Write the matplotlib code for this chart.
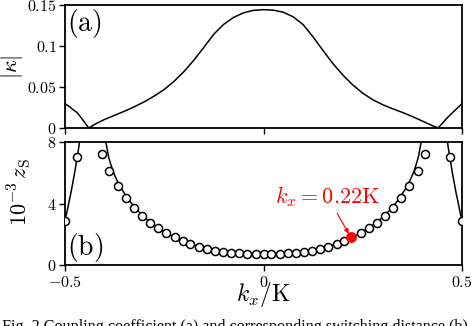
import numpy as np
import matplotlib

matplotlib.use("Agg")
import matplotlib.pyplot as plt

plt.rcParams["mathtext.fontset"] = "cm"
plt.rcParams["font.family"] = "serif"
plt.rcParams["font.serif"] = ["Liberation Serif", "DejaVu Serif"]

# coupling coefficient |kappa| versus k_x / K
kappa_k = [-0.50, -0.49, -0.48, -0.47, -0.46, -0.45, -0.44, -0.425, -0.40, -0.375,
           -0.35, -0.325, -0.30, -0.275, -0.25, -0.225, -0.20, -0.175, -0.15, -0.125,
           -0.10, -0.075, -0.05, -0.025, 0.0, 0.025, 0.05, 0.075, 0.10, 0.125,
           0.15, 0.175, 0.20, 0.225, 0.25, 0.275, 0.30, 0.325, 0.35, 0.375,
           0.40, 0.42, 0.44, 0.46, 0.48, 0.50]
kappa_val = [0.0297, 0.0265, 0.0225, 0.0190, 0.0130, 0.0065, 0.0, 0.0045, 0.0105, 0.0155,
             0.0205, 0.0260, 0.0320, 0.0390, 0.0470, 0.0570, 0.0690, 0.0830, 0.0985, 0.1145,
             0.1265, 0.1350, 0.1405, 0.1435, 0.1443, 0.1437, 0.1412, 0.1355, 0.1260, 0.1110,
             0.0945, 0.0785, 0.0645, 0.0525, 0.0425, 0.0345, 0.0285, 0.0235, 0.0190, 0.0140,
             0.0085, 0.0040, 0.0, 0.0110, 0.0205, 0.0297]

# switching distance: analytic curve (NaN separates the branches)
zs_line_k = [-0.50, -0.495, -0.49, -0.485, -0.48, -0.475, -0.47, -0.465, -0.46, -0.455, -0.45,
             np.nan,
             -0.42, -0.41, -0.40, -0.39, -0.38, -0.37, -0.36, -0.34, -0.32, -0.30, -0.28,
             -0.24, -0.20, -0.16, -0.12, -0.08, -0.04, 0.0, 0.04, 0.08, 0.12, 0.16, 0.20,
             0.24, 0.28, 0.30, 0.32, 0.34, 0.36, 0.37, 0.38, 0.39, 0.40, 0.41, 0.42,
             np.nan,
             0.45, 0.455, 0.46, 0.465, 0.47, 0.475, 0.48, 0.485, 0.49, 0.495, 0.50]
zs_line_val = [2.88, 3.45, 4.10, 4.70, 5.40, 6.10, 6.90, 7.70, 8.70, 10.5, 13.0,
               np.nan,
               14.0, 10.5, 8.40, 7.00, 6.15, 5.55, 5.05, 4.25, 3.62, 3.10, 2.68,
               2.00, 1.53, 1.15, 0.92, 0.78, 0.72, 0.70, 0.72, 0.78, 0.92, 1.15, 1.53,
               2.00, 2.68, 3.10, 3.62, 4.25, 5.05, 5.55, 6.15, 7.00, 8.40, 10.5, 14.0,
               np.nan,
               13.0, 10.5, 8.70, 7.70, 6.90, 6.10, 5.40, 4.70, 4.10, 3.45, 2.88]

# simulated switching distance (open circles)
zs_pts_k = [-0.500, -0.470, -0.408, -0.388, -0.367, -0.347, -0.326, -0.306, -0.286, -0.265,
            -0.245, -0.224, -0.204, -0.184, -0.163, -0.143, -0.122, -0.102, -0.082, -0.061,
            -0.041, -0.020, 0.000, 0.020, 0.041, 0.061, 0.082, 0.102, 0.122, 0.143,
            0.163, 0.184, 0.204, 0.245, 0.265, 0.286, 0.306, 0.326, 0.347, 0.367,
            0.388, 0.408, 0.470, 0.500]
zs_pts_val = [2.88, 7.00, 7.22, 6.11, 5.14, 4.34, 3.72, 3.19, 2.76, 2.39,
              2.06, 1.80, 1.57, 1.36, 1.16, 1.03, 0.93, 0.86, 0.80, 0.76,
              0.73, 0.72, 0.72, 0.72, 0.73, 0.76, 0.80, 0.86, 0.93, 1.03,
              1.16, 1.36, 1.57, 2.06, 2.39, 2.76, 3.19, 3.72, 4.34, 5.14,
              6.11, 7.22, 7.00, 2.88]

# highlighted operating point
hl_k = 0.22
hl_val = 1.80

W, H = 474, 326
fig = plt.figure(figsize=(W / 100, H / 100), dpi=100)
ax_a = fig.add_axes([65 / W, (H - 128) / H, 397 / W, 123 / H])
ax_b = fig.add_axes([65 / W, (H - 265) / H, 397 / W, 123 / H])


def style(ax):
    for s in ax.spines.values():
        s.set_linewidth(1.3)
    ax.tick_params(direction="out", length=4, width=1.0, labelsize=11.5, pad=2,
                   top=False, right=False)
    ax.set_xlim(-0.5, 0.5)
    ax.set_xticks([-0.5, 0, 0.5])


# (a) coupling coefficient
style(ax_a)
ax_a.plot(kappa_k, kappa_val, color="black", lw=1.1)
ax_a.set_ylim(0, 0.15)
ax_a.set_yticks([0, 0.05, 0.1, 0.15])
ax_a.set_yticklabels(["$0$", "$0.05$", "$0.1$", "$0.15$"])
ax_a.set_xticklabels([])
ax_a.set_ylabel(r"$|\kappa|$", fontsize=16)
ax_a.yaxis.set_label_coords(-0.10, 0.5)
ax_a.text(0.006, 0.985, r"$\mathrm{(a)}$", transform=ax_a.transAxes, fontsize=20,
          ha="left", va="top")

# (b) switching distance
style(ax_b)
ax_b.plot(zs_line_k, zs_line_val, color="black", lw=1.1, zorder=2)
ax_b.plot(zs_pts_k, zs_pts_val, ls="none", marker="o", ms=5.8, mfc="white",
          mec="black", mew=1.1, zorder=3)
ax_b.plot([hl_k], [hl_val], ls="none", marker="o", ms=6.8, mfc="red",
          mec="red", zorder=4)
ax_b.set_ylim(0, 8)
ax_b.set_yticks([0, 4, 8])
ax_b.set_yticklabels(["$0$", "$4$", "$8$"])
ax_b.set_xticklabels(["$-0.5$", "$0$", "$0.5$"])
ax_b.tick_params(axis="x", pad=3)
ax_b.set_ylabel(r"$10^{-3}\,z_{\rm S}$", fontsize=16)
ax_b.yaxis.set_label_coords(-0.08, 0.59)
ax_b.set_xlabel(r"$k_x/{\rm K}$", fontsize=17)
ax_b.xaxis.set_label_coords(0.5, -0.125)
ax_b.text(0.006, 0.01, r"$\mathrm{(b)}$", transform=ax_b.transAxes, fontsize=20,
          ha="left", va="bottom")
ax_b.annotate(r"$k_x = 0.22\mathrm{K}$", xy=(hl_k, hl_val), xytext=(0.162, 4.42),
              color="red", fontsize=16, ha="center", va="center",
              arrowprops=dict(arrowstyle="-|>", color="red", lw=0.8,
                              mutation_scale=7, shrinkA=1, shrinkB=3))

fig.text(0.004, -0.016, "Fig. 2 Coupling coefficient (a) and corresponding switching distance (b)",
         fontsize=11.6, ha="left", va="baseline")

fig.savefig("out.png", dpi=100)
